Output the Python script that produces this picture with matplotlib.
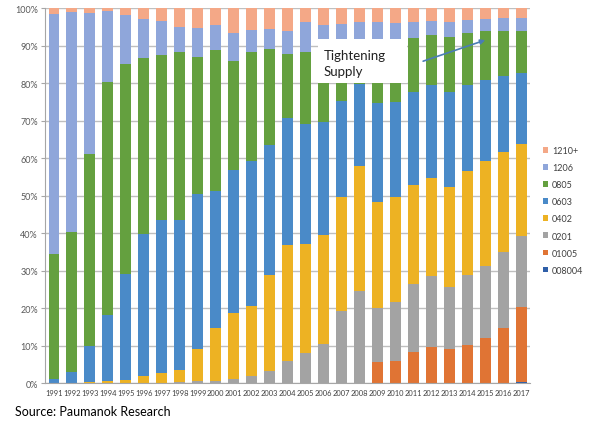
import numpy as np
import matplotlib
matplotlib.use("Agg")
import matplotlib.pyplot as plt
from matplotlib.patches import Rectangle, Patch

# === Data (share of units, %) ===
years = [str(y) for y in range(1991, 2018)]

s008004 = [0, 0, 0, 0, 0, 0, 0, 0, 0, 0, 0, 0, 0, 0, 0, 0, 0, 0,
           0, 0, 0, 0, 0, 0, 0, 0, 0.4]
s01005 = [0, 0, 0, 0, 0, 0, 0, 0, 0, 0, 0, 0, 0, 0, 0, 0, 0, 0,
          5.5, 6.0, 8.2, 9.7, 9.2, 10.1, 12.0, 14.7, 19.9]
s0201 = [0, 0, 0, 0, 0, 0, 0, 0.3, 0.5, 0.6, 1.2, 2.0, 3.3, 6.0, 8.0, 10.4, 19.1, 24.5,
         14.5, 15.5, 18.2, 18.9, 16.5, 18.7, 19.1, 20.3, 19.0]
s0402 = [0, 0, 0.3, 0.5, 0.8, 1.8, 2.8, 3.2, 8.7, 14.0, 17.6, 18.5, 25.5, 30.8, 29.1, 29.1, 30.4, 33.5,
         28.2, 28.2, 26.5, 26.0, 26.5, 27.8, 28.0, 26.5, 24.4]
s0603 = [1.1, 2.9, 9.7, 17.7, 28.4, 37.9, 40.7, 40.0, 41.2, 36.6, 38.0, 38.8, 34.8, 33.9, 32.1, 30.1, 25.8, 21.7,
         26.5, 25.3, 24.8, 24.9, 25.5, 22.9, 21.7, 20.3, 19.0]
s0805 = [33.3, 37.3, 51.2, 62.0, 56.0, 47.1, 44.0, 44.8, 36.6, 37.6, 29.1, 28.9, 25.5, 17.0, 19.0, 18.4, 13.7, 10.3,
         15.3, 16.0, 14.3, 13.4, 14.7, 13.8, 13.0, 12.1, 11.2]
s1206 = [64.0, 58.8, 37.6, 19.1, 13.0, 10.3, 9.1, 6.6, 7.7, 6.8, 7.4, 5.9, 5.3, 6.1, 8.0, 7.5, 6.7, 6.2,
         6.2, 5.0, 4.2, 3.7, 4.0, 3.5, 3.3, 3.4, 3.4]
s1210 = [1.6, 1.0, 1.2, 0.7, 1.8, 2.9, 3.4, 5.1, 5.3, 4.4, 6.7, 5.9, 5.6, 6.2, 3.8, 4.5, 4.3, 3.8,
         3.8, 4.0, 3.8, 3.4, 3.6, 3.2, 2.9, 2.7, 2.7]

series = [
    ("008004", s008004, "#2F5FA8"),
    ("01005", s01005, "#E07434"),
    ("0201", s0201, "#A3A3A3"),
    ("0402", s0402, "#EDB223"),
    ("0603", s0603, "#4A8AC8"),
    ("0805", s0805, "#64A03F"),
    ("1206", s1206, "#8FA6DA"),
    ("1210+", s1210, "#F4A887"),
]

plt.rcParams['font.family'] = ['Lato', 'DejaVu Sans']

fig = plt.figure(figsize=(5.91, 4.27), dpi=100)
ax = fig.add_axes([0.076, 0.1007, 0.821, 0.878])

x = np.arange(len(years))
bottom = np.zeros(len(years))
for name, vals, col in series:
    vals = np.array(vals)
    ax.bar(x, vals, 0.6, bottom=bottom, color=col, zorder=2, linewidth=0)
    bottom += vals

ax.set_xlim(-0.5, len(years) - 0.5)
ax.set_ylim(0, 100)
ax.set_yticks(range(0, 101, 10))
ax.set_yticklabels([f"{v}%" for v in range(0, 101, 10)], fontsize=6.5, color="#595959")
ax.set_xticks(x)
ax.set_xticklabels(years, fontsize=5.4, color="#404040")
ax.tick_params(axis='x', length=0, pad=4)
ax.tick_params(axis='y', length=3, color="#A6A6A6", pad=2)
ax.yaxis.grid(True, color="#BFBFBF", linewidth=1, zorder=0)
ax.set_axisbelow(True)
for s in ['top', 'right']:
    ax.spines[s].set_visible(False)
for s in ['left', 'bottom']:
    ax.spines[s].set_color("#A6A6A6")

# annotation box + arrow
ax.add_patch(Rectangle((14.67, 80.0), 5.0, 11.7, facecolor="white", edgecolor="none", zorder=4))
ax.text(15.0, 87.6, "Tightening", fontsize=9.5, color="#222222", va="center", zorder=5)
ax.text(15.0, 83.1, "Supply", fontsize=9.5, color="#222222", va="center", zorder=5)
ax.annotate("", xy=(24.15, 91.7), xytext=(20.4, 85.6),
            arrowprops=dict(arrowstyle="-|>", color="#4A7DB5", lw=1.2,
                            mutation_scale=7), zorder=6)

# legend
handles = [Patch(facecolor=col, label=name) for name, vals, col in series[::-1]]
fig.legend(handles=handles, loc="upper left", bbox_to_anchor=(0.905, 0.675),
           frameon=False, fontsize=6.5, handlelength=0.6, handleheight=0.6,
           handletextpad=0.4, labelspacing=0.9, labelcolor="#404040")

fig.text(0.025, 0.025, "Source: Paumanok Research", fontsize=9, color="black")

fig.savefig("out.png", dpi=100)
